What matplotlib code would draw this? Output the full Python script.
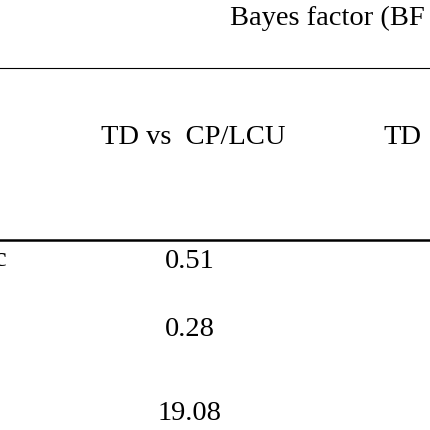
import matplotlib
matplotlib.use("Agg")
import matplotlib.pyplot as plt

header_top = "Bayes factor (BF"
col_headers = ["TD vs  CP/LCU", "TD"]
col_x = [193, 403]
values = ["0.51", "0.28", "19.08"]
value_y = [262, 330, 413]

fig = plt.figure(figsize=(4.3, 4.3), dpi=100)
ax = fig.add_axes([0, 0, 1, 1])
ax.set_xlim(0, 430)
ax.set_ylim(430, 0)
ax.axis("off")
fs = 20.5
font = "Liberation Serif"
ax.text(230, 18, header_top, fontsize=fs, family=font, ha="left", va="center")
ax.plot([0, 430], [68, 68], color="black", lw=0.8)
ax.text(col_x[0], 138, col_headers[0], fontsize=fs, family=font, ha="center", va="center")
ax.text(383, 138, col_headers[1], fontsize=fs, family=font, ha="left", va="center")
ax.plot([0, 430], [240, 240], color="black", lw=1.8)
ax.text(-6, 260, "c", fontsize=fs, family=font, ha="left", va="center")
for y, v in zip(value_y, values):
    ax.text(190, y, v, fontsize=fs, family=font, ha="center", va="center")
fig.savefig("out.png", dpi=100)
